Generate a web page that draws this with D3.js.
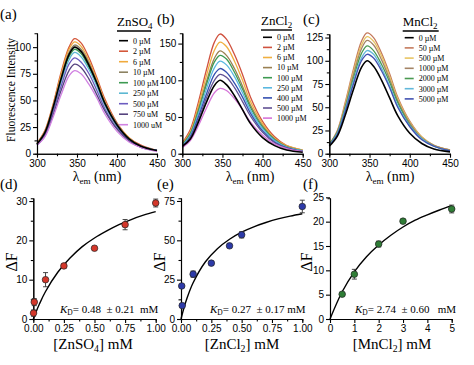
<!DOCTYPE html>
<html>
<head>
<meta charset="utf-8">
<script src="https://cdn.jsdelivr.net/npm/d3@7"></script>
<style>
  body { margin: 0; background: #fff; }
  svg { font-family: "Liberation Serif", "Times New Roman", serif; }
  .tick text { font-size: 10px; fill: #000; }
  .domain, .tick line { stroke: #000; stroke-width: 1.1; }
</style>
</head>
<body>
<svg id="chart" width="474" height="365"></svg>
<script>
// emission wavelengths (nm) shared by all spectra
const waves = [300, 310, 320, 330, 340, 347, 355, 365, 375, 385, 400, 415, 430, 450]

// (a) ZnSO4 spectra
const znso4Labels = ["0 µM", "2 µM", "6 µM", "10 µM", "100 µM", "250 µM", "500 µM", "750 uM", "1000 uM"]
const znso4Colors = ["#000000", "#d4573a", "#f0aa3c", "#8c8262", "#3d9a52", "#5cb8d2", "#6c5cc0", "#55437e", "#d182e2"]
const znso4Spectra = [
  [9, 20, 43, 70, 93, 100, 96, 83, 66, 47, 27, 14, 7, 3],
  [10, 22, 46, 76, 100, 108, 104, 90, 71, 51, 29, 15, 8, 3],
  [9, 21, 45, 74, 98, 105, 101, 87, 69, 49, 28, 15, 7, 3],
  [9, 20, 44, 71, 95, 102, 98, 85, 67, 48, 28, 14, 7, 3],
  [9, 20, 42, 69, 91, 98, 94, 81, 65, 46, 26, 14, 7, 3],
  [9, 19, 41, 67, 88, 95, 91, 79, 63, 45, 26, 13, 7, 3],
  [8, 18, 39, 63, 84, 90, 86, 75, 59, 42, 24, 13, 6, 3],
  [8, 17, 36, 59, 78, 84, 81, 70, 55, 40, 23, 12, 6, 3],
  [8, 16, 34, 55, 73, 78, 75, 65, 52, 37, 21, 11, 6, 2],
]

// (b) ZnCl2 spectra
const zncl2Labels = ["0 µM", "2 µM", "6 µM", "10 µM", "100 µM", "250 µM", "400 µM", "500 µM", "1000 µM"]
const zncl2Colors = ["#000000", "#d0523f", "#f0b040", "#9a8052", "#3d9a52", "#5ab8e0", "#3450b0", "#625294", "#d574d8"]
const zncl2Spectra = [
  [10, 20, 43, 70, 93, 100, 94, 79, 60, 41, 22, 11, 5, 2],
  [15, 33, 70, 114, 152, 163, 156, 135, 108, 77, 44, 23, 11, 5],
  [14, 30, 65, 106, 141, 152, 146, 126, 100, 71, 41, 21, 11, 5],
  [13, 28, 60, 98, 130, 140, 134, 116, 92, 66, 38, 20, 10, 4],
  [12, 27, 58, 94, 125, 134, 129, 111, 88, 63, 36, 19, 9, 4],
  [11, 25, 54, 88, 117, 126, 121, 105, 83, 59, 34, 18, 9, 4],
  [10, 23, 50, 81, 108, 116, 111, 96, 77, 55, 31, 16, 8, 3],
  [10, 22, 46, 76, 100, 108, 104, 90, 71, 51, 29, 15, 8, 3],
  [8, 18, 38, 62, 83, 89, 86, 75, 60, 43, 25, 13, 7, 3],
]

// (c) MnCl2 spectra
const mncl2Labels = ["0 µM", "50 µM", "500 µM", "1000 µM", "2000 µM", "3000 µM", "5000 µM"]
const mncl2Colors = ["#000000", "#c47a5c", "#e8c462", "#a48466", "#4a9a52", "#62b8da", "#4252b2"]
const mncl2Spectra = [
  [8, 19, 42, 69, 93, 100, 94, 79, 60, 41, 22, 11, 5, 2],
  [10, 25, 56, 91, 121, 130, 125, 108, 86, 61, 35, 18, 9, 4],
  [10, 24, 54, 88, 117, 126, 121, 105, 83, 59, 34, 18, 9, 4],
  [10, 24, 52, 85, 113, 122, 117, 101, 80, 57, 33, 17, 9, 4],
  [10, 23, 50, 81, 108, 116, 111, 96, 77, 55, 31, 16, 8, 3],
  [9, 22, 48, 78, 103, 111, 107, 92, 73, 52, 30, 16, 8, 3],
  [9, 21, 46, 75, 100, 107, 103, 89, 71, 50, 29, 15, 8, 3],
]

// (d) ZnSO4 titration
const znso4Conc = [0.002, 0.008, 0.1, 0.25, 0.5, 0.75, 1.0]
const znso4DF = [1.5, 4.3, 10, 13.5, 18, 24, 29.5]
const znso4Err = [0.8, 0.9, 1.8, 0.5, 0.4, 1.3, 1.0]
const znso4FitX = [0, 0.02, 0.05, 0.1, 0.2, 0.3, 0.4, 0.5, 0.6, 0.7, 0.8, 0.9, 1.0]
const znso4FitY = [0, 1.6, 3.8, 7.0, 11.9, 15.5, 18.4, 20.6, 22.4, 24.0, 25.3, 26.4, 27.3]

// (e) ZnCl2 titration
const zncl2Conc = [0.006, 0.01, 0.1, 0.25, 0.4, 0.5, 1.0]
const zncl2DF = [21, 8.5, 28.5, 35.5, 46.5, 53.5, 71.5]
const zncl2Err = [1, 1, 2, 1, 1, 2, 4]
const zncl2FitX = [0, 0.01, 0.02, 0.05, 0.1, 0.2, 0.3, 0.4, 0.5, 0.6, 0.7, 0.8, 0.9, 1.0]
const zncl2FitY = [0, 3.0, 5.9, 13.3, 23.0, 36.2, 44.7, 50.7, 55.2, 58.6, 61.3, 63.6, 65.4, 66.9]

// (f) MnCl2 titration
const mncl2Conc = [0.5, 1, 2, 3, 5]
const mncl2DF = [5.1, 9.2, 15.4, 20.1, 22.6]
const mncl2Err = [0.3, 1.0, 0.6, 0.3, 0.8]
const mncl2FitX = [0, 0.5, 1, 1.5, 2, 2.5, 3, 3.5, 4, 4.5, 5]
const mncl2FitY = [0, 5.6, 9.7, 12.8, 15.2, 17.2, 18.9, 20.3, 21.4, 22.4, 23.3]

const svg = d3.select("#chart")

function axes(x, y, xt, yt, xMinor, yMinor, xFmt, yFmt) {
  const g = svg.append("g")
  const bottom = y.range()[0]
  const left = x.range()[0]
  g.append("g").attr("transform", `translate(0,${bottom})`)
    .call(d3.axisBottom(x).tickValues(xMinor).tickSize(2.5).tickFormat(""))
  g.append("g").attr("transform", `translate(${left},0)`)
    .call(d3.axisLeft(y).tickValues(yMinor).tickSize(2.5).tickFormat(""))
  g.append("g").attr("transform", `translate(0,${bottom})`)
    .call(d3.axisBottom(x).tickValues(xt).tickSize(4).tickPadding(2).tickSizeOuter(0).tickFormat(xFmt))
  g.append("g").attr("transform", `translate(${left},0)`)
    .call(d3.axisLeft(y).tickValues(yt).tickSize(4).tickPadding(2).tickSizeOuter(0).tickFormat(yFmt))
}

function spectraPanel(xr, yr, ymax, yt, spectra, colors) {
  const x = d3.scaleLinear().domain([300, 450]).range(xr)
  const y = d3.scaleLinear().domain([0, ymax]).range(yr)
  const line = d3.line().x((d, i) => x(waves[i])).y((d) => y(d)).curve(d3.curveCatmullRom)
  const order = d3.range(spectra.length).slice(1).concat([0])
  svg.append("g").selectAll("path")
    .data(order)
    .join("path")
    .attr("d", (i) => line(spectra[i]))
    .attr("fill", "none")
    .attr("stroke", (i) => colors[i])
    .attr("stroke-width", (i) => (i == 0 ? 1.6 : 1.3))
  const ystep = yt[1] - yt[0]
  axes(x, y, [300, 350, 400, 450], yt, [325, 375, 425],
    yt.slice(0, -1).map((d) => d + ystep / 2).filter((d) => d < ymax), d3.format("d"), d3.format("d"))
}

function legend(x0, titleY, y0, step, ulWidth, main, sub, labels, colors) {
  const g = svg.append("g")
  const t = g.append("text").attr("x", x0).attr("y", titleY).attr("font-size", 13)
  t.append("tspan").text(main)
  t.append("tspan").attr("font-size", 9).attr("dy", 3).text(sub)
  g.append("line").attr("x1", x0).attr("x2", x0 + ulWidth)
    .attr("y1", titleY + 5).attr("y2", titleY + 5).attr("stroke", "#000").attr("stroke-width", 1.4)
  labels.forEach((lab, i) => {
    const yy = y0 + i * step
    g.append("line").attr("x1", x0 + 2).attr("x2", x0 + 11).attr("y1", yy).attr("y2", yy)
      .attr("stroke", colors[i]).attr("stroke-width", 1.6)
    g.append("text").attr("x", x0 + 16).attr("y", yy + 2.8).attr("font-size", 8).text(lab)
  })
}

function titrationPanel(xr, xmax, ymax, xt, yt, xMinor, yMinor, xFmt, conc, df, err, fitX, fitY, color) {
  const x = d3.scaleLinear().domain([0, xmax]).range(xr)
  const y = d3.scaleLinear().domain([0, ymax]).range([319, 198.3])
  const fit = d3.line().x((d, i) => x(fitX[i])).y((d) => y(d)).curve(d3.curveCatmullRom)
  axes(x, y, xt, yt, xMinor, yMinor, xFmt, d3.format("d"))
  svg.append("path").attr("d", fit(fitY)).attr("fill", "none").attr("stroke", "#000").attr("stroke-width", 1.4)
  const g = svg.append("g")
  conc.forEach((c, i) => {
    const cx = x(c)
    g.append("line").attr("x1", cx).attr("x2", cx)
      .attr("y1", y(df[i] - err[i])).attr("y2", y(df[i] + err[i]))
      .attr("stroke", "#333").attr("stroke-width", 0.9)
    ;[df[i] - err[i], df[i] + err[i]].forEach((v) =>
      g.append("line").attr("x1", cx - 2.5).attr("x2", cx + 2.5).attr("y1", y(v)).attr("y2", y(v))
        .attr("stroke", "#333").attr("stroke-width", 0.9))
  })
  g.selectAll("circle").data(conc).join("circle")
    .attr("cx", (d) => x(d)).attr("cy", (d, i) => y(df[i])).attr("r", 3.3)
    .attr("fill", color).attr("stroke", "#222").attr("stroke-width", 0.7)
}

function kd(x, value) {
  const t = svg.append("text").attr("x", x).attr("y", 313).attr("font-size", 11)
  t.append("tspan").attr("font-style", "italic").text("K")
  t.append("tspan").attr("font-size", 7.5).attr("dy", 2).text("D")
  t.append("tspan").attr("dy", -2).attr("xml:space", "preserve").text(value)
}

function xTitle(cx, cy, main, sub, rest, size) {
  const t = svg.append("text").attr("x", cx).attr("y", cy).attr("text-anchor", "middle").attr("font-size", size)
  t.append("tspan").text(main)
  t.append("tspan").attr("font-size", size * 0.65).attr("dy", 3).text(sub)
  t.append("tspan").attr("dy", -3).text(rest)
}

function yTitle(cx, cy, label, size) {
  svg.append("text").attr("transform", `translate(${cx},${cy}) rotate(-90)`)
    .attr("text-anchor", "middle").attr("font-size", size).text(label)
}

// top row
spectraPanel([37, 157], [153.7, 33.3], 113, [0, 25, 50, 75, 100], znso4Spectra, znso4Colors)
spectraPanel([182.3, 302.7], [153.7, 33.3], 164, [0, 50, 100, 150], zncl2Spectra, zncl2Colors)
spectraPanel([329.3, 450], [153.7, 34.3], 128.5, [0, 25, 50, 75, 100, 125], mncl2Spectra, mncl2Colors)

legend(117, 26, 40.7, 10.5, 34, "ZnSO", "4", znso4Labels, znso4Colors)
legend(261, 25, 37.3, 10.1, 31, "ZnCl", "2", zncl2Labels, zncl2Colors)
legend(402.7, 26, 37.7, 10.2, 36, "MnCl", "2", mncl2Labels, mncl2Colors)

xTitle(97, 181, "λ", "em", " (nm)", 14)
xTitle(250, 181, "λ", "em", " (nm)", 14)
xTitle(390, 181, "λ", "em", " (nm)", 14)
yTitle(15, 90, "Fluorescence Intensity", 11.5)

// bottom row
titrationPanel([33.3, 155.7], 1, 30.7, [0, 0.25, 0.5, 0.75, 1], [0, 10, 20, 30],
  [0.125, 0.375, 0.625, 0.875], [5, 15, 25], d3.format(".2f"),
  znso4Conc, znso4DF, znso4Err, znso4FitX, znso4FitY, "#d4372a")
titrationPanel([181, 302.3], 1, 76.7, [0, 0.25, 0.5, 0.75, 1], [0, 25, 50, 75],
  [0.125, 0.375, 0.625, 0.875], [12.5, 37.5, 62.5], d3.format(".2f"),
  zncl2Conc, zncl2DF, zncl2Err, zncl2FitX, zncl2FitY, "#2d3aa8")
titrationPanel([330, 451.7], 5, 24.8, [0, 1, 2, 3, 4, 5], [0, 5, 10, 15, 20, 25],
  [], [], d3.format("d"),
  mncl2Conc, mncl2DF, mncl2Err, mncl2FitX, mncl2FitY, "#2f7d36")

kd(60, "= 0.48  ± 0.21  mM")
kd(210, "= 0.27  ± 0.17 mM")
kd(355, "= 2.74  ± 0.60   mM")

xTitle(93, 349, "[ZnSO", "4", "] mM", 15)
xTitle(242, 349, "[ZnCl", "2", "] mM", 15)
xTitle(392, 349, "[MnCl", "2", "] mM", 15)
yTitle(17, 262, "ΔF", 16)
yTitle(165, 262, "ΔF", 16)
yTitle(312, 262, "ΔF", 16)

// panel letters
const letters = [["(a)", 0, 19], ["(b)", 157, 24], ["(c)", 303, 24], ["(d)", 0, 189], ["(e)", 157, 189], ["(f)", 303, 189]]
svg.selectAll(".letter").data(letters).join("text")
  .attr("class", "letter").attr("x", (d) => d[1]).attr("y", (d) => d[2])
  .attr("font-size", 15).text((d) => d[0])
</script>
</body>
</html>
